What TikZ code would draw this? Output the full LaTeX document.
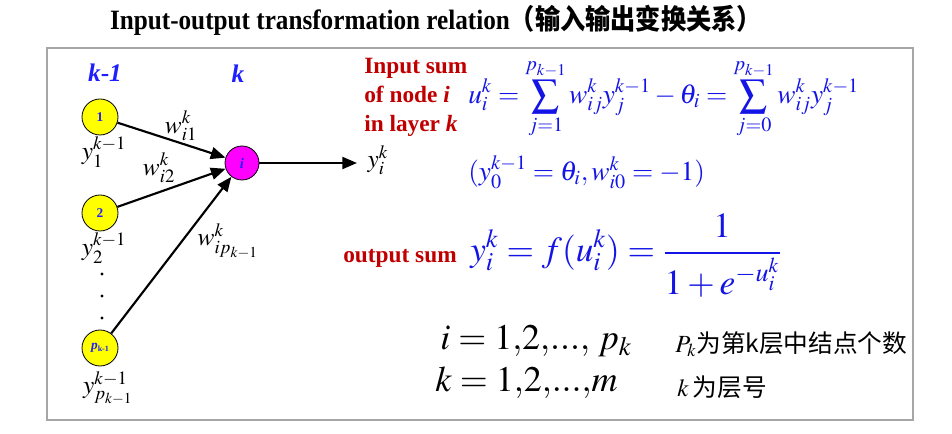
\documentclass[tikz,border=0pt]{standalone}
\usepackage{mathptmx}
\usepackage[no-math]{fontspec}
\setmainfont{Liberation Serif}
\newfontfamily\cjk{Noto Sans CJK SC}
\usetikzlibrary{arrows.meta}
\definecolor{eqblue}{RGB}{20,20,230}
\definecolor{lblblue}{RGB}{30,30,255}
\definecolor{darkred}{RGB}{192,0,0}
\definecolor{nodeyellow}{RGB}{255,255,0}
\definecolor{nodemagenta}{RGB}{255,0,255}
\tikzset{
  prev/.style={circle,draw,fill=nodeyellow,minimum size=27pt,inner sep=0pt,line width=0.6pt,font=\bfseries\fontsize{10}{11}\selectfont\color{lblblue}},
  cur/.style={circle,draw,fill=nodemagenta,minimum size=25.5pt,inner sep=0pt,line width=0.6pt,font=\bfseries\itshape\fontsize{11}{12}\selectfont\color{lblblue}},
  conn/.style={line width=1.6pt,-{Triangle[length=11pt,width=9pt]}},
  lbl/.style={inner sep=0pt,font=\fontsize{19}{21}\selectfont},
  layer/.style={inner sep=0pt,text=lblblue,font=\bfseries\itshape\fontsize{19}{21}\selectfont},
  redtxt/.style={inner sep=0pt,text=darkred,font=\bfseries\fontsize{17.5}{21.75}\selectfont},
  eq/.style={inner sep=0pt,text=eqblue,font=\fontsize{20.5}{22}\selectfont},
  big/.style={inner sep=0pt,font=\fontsize{27}{30}\selectfont},
  cn/.style={inner sep=0pt,font=\fontsize{18.5}{21}\selectfont}
}
\begin{document}
\begin{tikzpicture}[x=0.75pt,y=-0.75pt]
\useasboundingbox (0,0) rectangle (952,434);
\draw[black!35,line width=1.3pt] (47,48) rectangle (913,420);
\node[inner sep=0pt,font=\bfseries\fontsize{21}{24}\selectfont] (title) at (436,20) {\scalebox{0.9}[1]{Input-output transformation relation{\cjk\bfseries（输入输出变换关系）}}};

\node[layer] (lk1) at (105,73) {k\textup{-}1};
\node[layer] (lk) at (238,74) {k};

\node[prev] (n1) at (100,117) {1};
\node[prev] (n2) at (100,213) {2};
\node[prev] (np) at (100,348) {\textit{p}\raisebox{-1.5pt}{\fontsize{6}{7}\selectfont\textbf{k-1}}};
\node[cur] (ni) at (242,163) {i};
\coordinate (out) at (357,163);

\draw[conn] (n1) -- (ni);
\draw[conn] (n2) -- (ni);
\draw[conn] (np) -- (ni);
\draw[conn] (ni) -- (out);

\node[lbl] (y1) at (104,152) {$y_1^{k-1}$};
\node[lbl] (y2) at (104,248) {$y_2^{k-1}$};
\node[lbl] (yp) at (108,388) {$y_{p_{k-1}}^{k-1}$};
\node[lbl] (yi) at (378,160) {$y_i^{k}$};
\node[lbl] (w1) at (181,126) {$w_{i1}^{k}$};
\node[lbl] (w2) at (159,168) {$w_{i2}^{k}$};
\node[lbl] (wp) at (228,241) {$w_{ip_{k-1}}^{k}$};
\foreach \yy [count=\c] in {274,296,318} \node[circle,fill,inner sep=0pt,minimum size=2.4pt] (dot\c) at (102,\yy) {};

\node[redtxt,align=left,anchor=west] (insum) at (364,97) {Input sum\\of node \textit{i}\\in layer \textit{k}};
\node[eq,anchor=west] (equ) at (468,99) {$\displaystyle u_i^k=\sum_{j=1}^{p_{k-1}} w_{ij}^k y_j^{k-1}-\theta_i=\sum_{j=0}^{p_{k-1}} w_{ij}^k y_j^{k-1}$};
\node[eq,anchor=west] (eqc) at (468,172) {$(y_0^{k-1}=\theta_i, w_{i0}^k=-1)$};

\node[redtxt,anchor=west] (outsum) at (343,258) {output sum};
\node[eq,anchor=west,font=\fontsize{26.5}{28}\selectfont] (eqy) at (470,256) {$\displaystyle y_i^k=f(u_i^k)=\frac{1}{1+e^{-u_i^k}}$};

\node[big,anchor=west] (ir) at (440,341) {$i=1{,}2{,}...{,}\;p_k$};
\node[big,anchor=west] (kr) at (435,383) {$k=1{,}2{,}...{,}m$};
\node[cn,anchor=west] (pk) at (675,344) {$P_k${\cjk 为第k层中结点个数}};
\node[cn,anchor=west] (kk) at (677,387) {$k$\,{\cjk 为层号}};
\end{tikzpicture}
\end{document}
